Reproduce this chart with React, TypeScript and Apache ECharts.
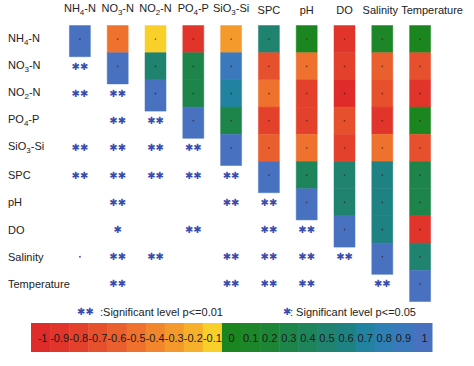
import React, { useEffect, useRef } from "react";
import * as echarts from "echarts";

const variables = ["NH4-N", "NO3-N", "NO2-N", "PO4-P", "SiO3-Si", "SPC", "pH", "DO", "Salinity", "Temperature"];

// Upper triangle (incl. diagonal), column by column: corrColumns[j][i] = r(row i, column j), i <= j
const corrColumns: number[][] = [
  [1],
  [-0.5, 1],
  [-0.1, 0.5, 1],
  [-0.9, 0.3, 0.3, 1],
  [-0.3, 0.9, 0.7, 0.3, 1],
  [0.5, -0.7, -0.5, -0.8, -0.6, 1],
  [0.0, -0.5, -0.8, -0.8, -0.5, 0.4, 1],
  [-0.9, -0.8, -1.0, -0.7, -0.8, 0.5, 0.5, 1],
  [0.1, -0.6, -0.7, -0.9, -0.5, 0.6, 0.6, 0.6, 1],
  [0.0, -0.7, -0.9, 0.0, -0.7, 0.3, 0.3, -0.9, 0.5, 1],
];

// Lower triangle significance markers: sigRows[i][j], j < i
const sigRows: string[][] = [
  [],
  ["**"],
  ["**", "**"],
  ["", "**", "**"],
  ["**", "**", "**", "**"],
  ["**", "**", "**", "**", "**"],
  ["", "**", "", "", "**", "**"],
  ["", "*", "", "**", "", "**", "**"],
  [".", "**", "**", "", "**", "**", "**", "**"],
  ["", "**", "", "", "**", "**", "**", "", "**"],
];

const scaleTicks = ["-1", "-0.9", "-0.8", "-0.7", "-0.6", "-0.5", "-0.4", "-0.3", "-0.2", "-0.1", "0",
  "0.1", "0.2", "0.3", "0.4", "0.5", "0.6", "0.7", "0.8", "0.9", "1"];
const scaleColors = ["#df2c2b", "#e1352b", "#e4412c", "#e7502d", "#ea5f2e", "#ee722e", "#f1862d", "#f49a2c",
  "#f6b02b", "#f9d02a", "#1b861f", "#1c8628", "#1c8636", "#1d854a", "#1e845c", "#1f836f", "#1f8282",
  "#2283a0", "#2e7fb4", "#3b79bd", "#4872c0"];

const FONT = "Liberation Sans, Arial, sans-serif";
const STAR_COLOR = "#3a4cae";
const TEXT_COLOR = "#222";

function colorFor(v: number): string {
  let idx = Math.round((v + 1) * 10);
  idx = Math.max(0, Math.min(20, idx));
  return scaleColors[idx];
}

function labelFmt(name: string): string {
  const m = name.match(/^([A-Za-z]+)(\d)(.*)$/);
  if (!m) return name;
  return `{m|${m[1]}}{s|${m[2]}}{m|${m[3]}}`;
}

function topLabelFmt(name: string): string {
  if (name === "Temperature") return `{t|${name}}`;
  if (name === "Salinity") return `{u|${name}}`;
  return labelFmt(name);
}

const rich = {
  m: { fontSize: 11, lineHeight: 14, verticalAlign: "top", fontFamily: FONT, color: TEXT_COLOR },
  s: { fontSize: 8, lineHeight: 8, padding: [6, 0, 4, 0], verticalAlign: "top", fontFamily: FONT, color: TEXT_COLOR },
  t: { fontSize: 11, lineHeight: 14, padding: [0, 0, 0, 24], fontFamily: FONT, color: TEXT_COLOR },
  u: { fontSize: 11, lineHeight: 14, padding: [0, 4, 0, 0], fontFamily: FONT, color: TEXT_COLOR },
};

export default function App() {
  const ref = useRef<HTMLDivElement>(null);
  useEffect(() => {
    if (!ref.current) return;
    const chart = echarts.init(ref.current, undefined, { renderer: "svg" });

    const cellData: number[][] = [];
    corrColumns.forEach((col, j) => col.forEach((v, i) => cellData.push([j, i, v])));
    const sigData: any[] = [];
    sigRows.forEach((row, i) => row.forEach((s, j) => { if (s) sigData.push([j, i, s]); }));
    const barData = scaleTicks.map((t, i) => [i, 0, Number(t)]);

    const option: any = {
      animation: false,
      grid: [
        { left: 61, top: 25.5, width: 378, height: 272 },
        { left: 31, top: 323, width: 401, height: 29 },
      ],
      xAxis: [
        {
          gridIndex: 0, type: "category", data: variables, position: "top",
          axisLine: { show: false }, axisTick: { show: false }, splitLine: { show: false },
          axisLabel: { interval: 0, margin: 9, fontSize: 11, lineHeight: 14, color: TEXT_COLOR, fontFamily: FONT, formatter: topLabelFmt, rich },
        },
        { gridIndex: 1, type: "category", data: scaleTicks, show: false },
      ],
      yAxis: [
        {
          gridIndex: 0, type: "category", data: variables, inverse: true,
          axisLine: { show: false }, axisTick: { show: false }, splitLine: { show: false },
          axisLabel: { interval: 0, align: "left", margin: 53, fontSize: 11, lineHeight: 14, color: TEXT_COLOR, fontFamily: FONT, formatter: labelFmt, rich },
        },
        { gridIndex: 1, type: "category", data: [""], show: false },
      ],
      series: [
        {
          type: "custom", xAxisIndex: 0, yAxisIndex: 0, data: cellData, encode: { x: 0, y: 1 },
          renderItem: (params: any, api: any) => {
            const x = api.value(0), y = api.value(1), v = api.value(2);
            const c = api.coord([x, y]);
            const sz = api.size([1, 1]);
            const w = sz[0] * 0.555, h = sz[1];
            const diag = x === y;
            const col = colorFor(v);
            return {
              type: "group",
              children: [
                { type: "rect", shape: { x: c[0] - w / 2, y: c[1] - h / 2, width: w, height: h + (diag ? 4 : 0) }, style: { fill: col, stroke: col, lineWidth: 0.5 } },
                { type: "circle", shape: { cx: c[0], cy: c[1], r: 0.8 }, style: { fill: "rgba(70,20,20,0.65)" } },
              ],
            };
          },
        },
        {
          type: "custom", xAxisIndex: 0, yAxisIndex: 0, data: sigData, encode: { x: 0, y: 1 },
          renderItem: (params: any, api: any) => {
            const item = sigData[params.dataIndex];
            const c = api.coord([item[0], item[1]]);
            const s = item[2] as string;
            if (s === ".") {
              return { type: "circle", shape: { cx: c[0], cy: c[1], r: 0.9 }, style: { fill: STAR_COLOR } };
            }
            return {
              type: "text", x: c[0], y: c[1],
              style: { text: s.replace(/\*/g, "✱"), fill: STAR_COLOR, fontSize: 10, fontFamily: "DejaVu Sans", align: "center", verticalAlign: "middle" },
            };
          },
        },
        {
          type: "custom", xAxisIndex: 1, yAxisIndex: 1, data: barData, encode: { x: 0, y: 1 },
          renderItem: (params: any, api: any) => {
            const i = api.value(0);
            const c = api.coord([i, 0]);
            const sz = api.size([1, 1]);
            const v = api.value(2);
            return {
              type: "group",
              children: [
                { type: "rect", shape: { x: c[0] - sz[0] / 2, y: c[1] - sz[1] / 2, width: sz[0] + 0.5, height: sz[1] }, style: { fill: colorFor(v) } },
                { type: "text", x: c[0] + (i === 0 || i === 20 ? 2 : 0), y: c[1], style: { text: scaleTicks[i], fill: "#1a1a1a", fontSize: 11, fontFamily: FONT, align: "center", verticalAlign: "middle" } },
              ],
            };
          },
        },
      ],
      graphic: [
        { type: "text", left: 77, top: 306, style: { text: "✱✱", fill: STAR_COLOR, fontSize: 10, fontFamily: "DejaVu Sans" } },
        { type: "text", left: 100, top: 306, style: { text: ":Significant level p<=0.01", fill: TEXT_COLOR, fontSize: 11, fontFamily: FONT } },
        { type: "text", left: 283, top: 306, style: { text: "✱", fill: STAR_COLOR, fontSize: 10, fontFamily: "DejaVu Sans" } },
        { type: "text", left: 290, top: 306, style: { text: ": Significant level p<=0.05", fill: TEXT_COLOR, fontSize: 11, fontFamily: FONT } },
      ],
    };
    chart.setOption(option);
    return () => chart.dispose();
  }, []);
  return <div ref={ref} style={{ position: "fixed", left: 0, top: 0, width: 474, height: 366, background: "#fff" }} />;
}
